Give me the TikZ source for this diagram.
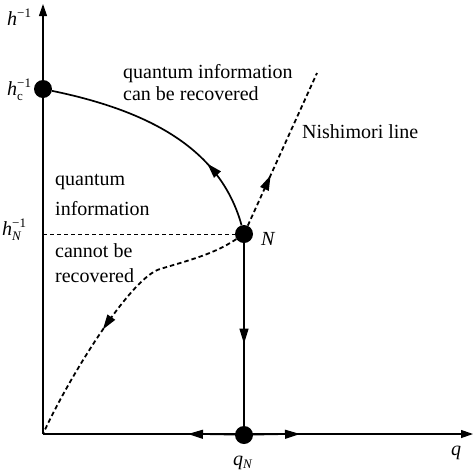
\documentclass[tikz,border=0pt]{standalone}
\usepackage{amsmath}
\usepackage{fontspec}
\setmainfont{Liberation Serif}
\usetikzlibrary{arrows.meta,decorations.markings}
\newcommand\myss[1]{\text{\fontsize{13}{13}\selectfont #1}}
\begin{document}
\begin{tikzpicture}[x=1pt,y=-1pt,
  font=\fontsize{20}{24}\selectfont,
  lbl/.style={inner sep=0pt, anchor=base west},
  dot/.style={circle, fill=black, inner sep=0pt, minimum size=18pt},
  axis/.style={line width=1.2pt},
  axtip/.style={-{Triangle[length=12pt,width=8pt]}},
  tipend/.style={-{Triangle[length=15pt,width=9pt]}},
  flow/.style={line width=1.7pt},
  nish/.style={line width=1.8pt, dash pattern=on 4.5pt off 3pt},
  thindash/.style={line width=0.7pt, dash pattern=on 4pt off 3pt},
  midarrow/.style={postaction={decorate}, decoration={markings,
     mark=at position #1 with {\arrow{Triangle[length=15pt,width=9pt]}}}},
]
\useasboundingbox (0,0) rectangle (474,472);
% points
\coordinate (O) at (43,434);
\coordinate (ytop) at (43,4);
\coordinate (xend) at (473,434);
\coordinate (hNax) at (43,234);
\coordinate (nishend) at (317,73);
\coordinate (qL) at (188,434);
\coordinate (qR) at (300,434);
\node[dot] (hc) at (43,89) {};
\node[dot] (N) at (244,234) {};
\node[dot] (qN) at (244,435) {};
% axes
\draw[axis,axtip] (O) -- (ytop);
\draw[axis,axtip] (O) -- (xend);
\draw[axis,tipend] (qN) -- (qL);
\draw[axis,tipend] (qN) -- (qR);
% dashed level line
\draw[thindash] (hNax) -- (N);
% flows
\draw[flow,midarrow=0.29] (N) .. controls (222,155) and (160,113) .. (hc);
\draw[axis,midarrow=0.55] (N) -- (qN);
\draw[nish,midarrow=0.33] (N) -- (nishend);
\draw[nish,midarrow=0.58] (N) .. controls (214,254) and (190,260) .. (160,269)
   .. controls (130,278) and (68,379) .. (O);
% labels
\node[lbl] (lhinv) at (7,25) {\textit{h}$^{\myss{−1}}$};
\node[lbl] (lhc) at (7,95) {\textit{h}$^{\myss{−1}}_{\myss{c}}$};
\node[lbl] (lhN) at (2,235) {\textit{h}$^{\myss{−1}}_{\myss{\itshape N}}$};
\node[lbl] (lqN) at (233,465) {\textit{q}$_{\myss{\itshape N}}$};
\node[lbl] (lq) at (451,455) {\textit{q}};
\node[lbl] (lN) at (261,245) {\textit{N}};
\node[lbl] (t1) at (123,78) {quantum information};
\node[lbl] (t2) at (123,100) {can be recovered};
\node[lbl] (t3) at (302,138) {Nishimori line};
\node[lbl] (t4) at (55,185) {quantum};
\node[lbl] (t5) at (55,215) {information};
\node[lbl] (t6) at (55,257) {cannot be};
\node[lbl] (t7) at (55,282) {recovered};
\end{tikzpicture}
\end{document}
